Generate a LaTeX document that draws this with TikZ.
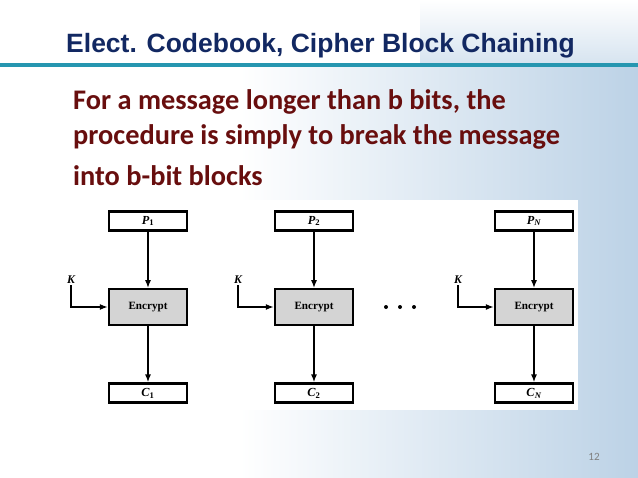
\documentclass[tikz,border=0pt]{standalone}
\usepackage{fontspec}
\setmainfont{Liberation Serif}
\newfontfamily\titlefont{Liberation Sans}
\newfontfamily\bodyfont{Carlito}
\usetikzlibrary{positioning, arrows.meta}
\definecolor{titleblue}{RGB}{18,40,98}
\definecolor{bodyred}{RGB}{104,14,14}
\definecolor{ruleteal}{RGB}{38,150,176}
\definecolor{encgray}{RGB}{212,212,212}
\definecolor{bgblue}{RGB}{188,210,230}
\newcommand{\blocklabel}[2]{\textbf{\textit{#1}}\textsubscript{\bfseries #2}}

\begin{document}
\begin{tikzpicture}[x=0.03cm, y=-0.03cm, node distance=1.7cm, >={Latex[length=0.24cm,width=0.18cm]}]
  \tikzstyle{block} = [draw, line width=1.9pt, rectangle, minimum height=0.57cm, minimum width=2.34cm, inner sep=0pt, font=\fontsize{10.5}{11}\selectfont]
  \tikzstyle{enc} = [block, fill=encgray, minimum height=1.06cm, font=\bfseries\fontsize{9.5}{10}\selectfont]
  \tikzstyle{key} = [font=\bfseries\itshape\fontsize{10}{11}\selectfont, inner sep=1pt]
  \tikzstyle{flow} = [->, line width=1.4pt]
  \useasboundingbox (0,0) rectangle (638,478);
  % slide background
  \fill[white] (0,0) rectangle (638,478);
  \shade[left color=white, right color=bgblue] (240,67) rectangle (638,478);
  \shade[top color=white, bottom color=bgblue!60] (420,0) rectangle (638,63);
  \fill[ruleteal] (0,63) rectangle (638,67);
  \node[anchor=base west, inner sep=0pt, text=titleblue, font=\titlefont\bfseries\fontsize{22.6}{24}\selectfont] (title) at (66,53) {Elect. Codebook, Cipher Block Chaining};
  \node[anchor=base west, inner sep=0pt, text=bodyred, font=\bodyfont\bfseries\fontsize{24.2}{26}\selectfont] (line1) at (73,110) {For a message longer than b bits, the};
  \node[anchor=base west, inner sep=0pt, text=bodyred, font=\bodyfont\bfseries\fontsize{24.2}{26}\selectfont] (line2) at (73,144) {procedure is simply to break the message};
  \node[anchor=base west, inner sep=0pt, text=bodyred, font=\bodyfont\bfseries\fontsize{24.2}{26}\selectfont] (line3) at (73,185) {into b-bit blocks};
  \node[text=black!50, font=\bodyfont\fontsize{9.5}{10}\selectfont] (page) at (594,457) {12};
  % diagram panel
  \fill[white] (55,200) rectangle (578,410);

  \node [enc] (enc1) at (148,307) {Encrypt};
  \node [block, above=of enc1] (P1) {\blocklabel{P}{1}};
  \node [block, below=of enc1] (C1) {\blocklabel{C}{1}};
  \node [key] (K1) at (71,280) {K};

  \node [enc] (enc2) at (314,307) {Encrypt};
  \node [block, above=of enc2] (P2) {\blocklabel{P}{2}};
  \node [block, below=of enc2] (C2) {\blocklabel{C}{2}};
  \node [key] (K2) at (238,280) {K};

  \node [enc] (encN) at (534,307) {Encrypt};
  \node [block, above=of encN] (PN) {\blocklabel{P}{\itshape N}};
  \node [block, below=of encN] (CN) {\blocklabel{C}{\itshape N}};
  \node [key] (KN) at (458,280) {K};

  \node (dots) at (400,307) {};
  \foreach \dx in {-14,0,14}
    \fill ([xshift=\dx*0.03cm]dots.center) circle (0.06cm);

  \draw [flow] (P1) -- (enc1);
  \draw [flow] (enc1) -- (C1);
  \draw [flow] (K1.south) |- (enc1.west);
  \draw [flow] (P2) -- (enc2);
  \draw [flow] (enc2) -- (C2);
  \draw [flow] (K2.south) |- (enc2.west);
  \draw [flow] (PN) -- (encN);
  \draw [flow] (encN) -- (CN);
  \draw [flow] (KN.south) |- (encN.west);
\end{tikzpicture}
\end{document}
